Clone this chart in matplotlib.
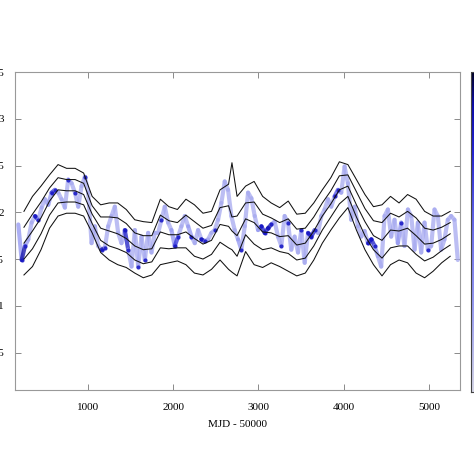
import numpy as np
import matplotlib
matplotlib.use("Agg")
import matplotlib.pyplot as plt
from matplotlib.collections import LineCollection
from matplotlib.colors import LinearSegmentedColormap

plt.rcParams['font.family'] = ['Liberation Serif', 'DejaVu Serif']

# --- envelope lines (black) ---
env_days = [250, 350, 450, 550, 650, 750, 850, 950, 1050, 1150, 1250, 1350, 1450, 1550,
            1650, 1750, 1850, 1950, 2050, 2150, 2250, 2350, 2450, 2550, 2650, 2690, 2750,
            2850, 2950, 3050, 3150, 3250, 3350, 3450, 3550, 3650, 3750, 3850, 3950, 4050,
            4150, 4250, 4350, 4450, 4550, 4650, 4750, 4850, 4950, 5050, 5150, 5250]
upper2 = [2.01, 2.17, 2.28, 2.40, 2.51, 2.47, 2.47, 2.42, 2.17, 2.08, 2.10, 2.10, 2.03, 1.92,
          1.90, 1.89, 2.14, 2.06, 2.03, 2.14, 2.08, 1.99, 2.01, 2.24, 2.30, 2.53, 2.17,
          2.28, 2.33, 2.17, 2.10, 2.05, 2.12, 1.98, 1.99, 2.10, 2.24, 2.37, 2.54, 2.51,
          2.35, 2.19, 2.06, 2.08, 2.17, 2.10, 2.19, 2.14, 2.01, 1.96, 1.96, 2.01]
upper1 = [1.84, 1.98, 2.11, 2.26, 2.37, 2.35, 2.35, 2.31, 2.07, 1.95, 1.95, 1.94, 1.88, 1.78,
          1.75, 1.75, 1.97, 1.91, 1.89, 1.97, 1.90, 1.83, 1.86, 2.05, 2.07, 1.95, 1.96,
          2.10, 2.11, 1.98, 1.94, 1.89, 1.93, 1.82, 1.83, 1.95, 2.10, 2.23, 2.39, 2.40,
          2.22, 2.04, 1.91, 1.89, 1.99, 1.95, 2.01, 1.94, 1.83, 1.81, 1.84, 1.89]
center = [1.67, 1.80, 1.94, 2.12, 2.24, 2.23, 2.23, 2.19, 1.98, 1.83, 1.80, 1.77, 1.72, 1.64,
          1.60, 1.61, 1.79, 1.76, 1.76, 1.79, 1.72, 1.66, 1.70, 1.87, 1.85, 1.80, 1.75,
          1.93, 1.89, 1.79, 1.78, 1.74, 1.75, 1.65, 1.67, 1.80, 1.96, 2.09, 2.24, 2.28,
          2.08, 1.90, 1.75, 1.70, 1.81, 1.80, 1.83, 1.75, 1.66, 1.67, 1.71, 1.77]
lower1 = [1.50, 1.61, 1.77, 1.97, 2.10, 2.11, 2.11, 2.08, 1.88, 1.70, 1.64, 1.61, 1.57, 1.49,
          1.45, 1.47, 1.62, 1.61, 1.62, 1.62, 1.53, 1.50, 1.55, 1.68, 1.62, 1.60, 1.53,
          1.76, 1.66, 1.60, 1.62, 1.58, 1.56, 1.49, 1.51, 1.64, 1.81, 1.95, 2.09, 2.17,
          1.95, 1.75, 1.60, 1.51, 1.62, 1.64, 1.64, 1.55, 1.48, 1.52, 1.59, 1.65]
lower2 = [1.33, 1.42, 1.60, 1.83, 1.96, 1.99, 1.99, 1.96, 1.78, 1.57, 1.49, 1.44, 1.41, 1.35,
          1.30, 1.33, 1.44, 1.46, 1.48, 1.44, 1.35, 1.33, 1.39, 1.49, 1.39, 1.36, 1.32,
          1.58, 1.44, 1.41, 1.46, 1.42, 1.37, 1.32, 1.35, 1.49, 1.67, 1.81, 1.94, 2.05,
          1.81, 1.60, 1.44, 1.32, 1.44, 1.49, 1.46, 1.35, 1.30, 1.37, 1.46, 1.53]

# --- blue measured curve ---
blue_days = [184, 223, 262, 301, 340, 379, 418, 457, 496, 535, 574, 613, 652, 691, 730, 769,
             809, 848, 887, 926, 965, 1004, 1043, 1082, 1121, 1160, 1199, 1238, 1277, 1316,
             1355, 1394, 1433, 1473, 1512, 1551, 1590, 1629, 1668, 1707, 1746, 1785, 1824,
             1863, 1902, 1941, 1980, 2019, 2058, 2097, 2137, 2176, 2215, 2254, 2293, 2332,
             2371, 2410, 2449, 2488, 2527, 2566, 2605, 2644, 2683, 2722, 2761, 2801, 2840,
             2879, 2918, 2957, 2996, 3035, 3074, 3113, 3152, 3191, 3230, 3269, 3308, 3347,
             3386, 3425, 3465, 3504, 3543, 3582, 3621, 3660, 3699, 3738, 3777, 3816, 3855,
             3894, 3933, 3972, 4011, 4050, 4089, 4129, 4168, 4207, 4246, 4285, 4324, 4363,
             4402, 4441, 4480, 4519, 4558, 4597, 4636, 4675, 4714, 4754, 4793, 4832, 4871,
             4910, 4949, 4988, 5027, 5066, 5105, 5144, 5183, 5222, 5261, 5300, 5339]
blue_vals = [1.87, 1.49, 1.64, 1.71, 1.89, 1.96, 1.92, 2.05, 2.14, 2.08, 2.21, 2.24, 2.21,
             2.14, 2.05, 2.35, 2.31, 2.21, 2.06, 2.28, 2.38, 2.21, 1.67, 1.85, 1.64, 1.60,
             1.62, 1.85, 1.96, 2.06, 1.78, 1.67, 1.81, 1.60, 1.42, 1.81, 1.42, 1.74, 1.49,
             1.78, 1.57, 1.78, 1.78, 1.92, 2.06, 1.89, 1.81, 1.64, 1.74, 1.85, 1.96, 1.85,
             1.74, 1.67, 1.81, 1.71, 1.69, 1.71, 1.78, 1.81, 1.92, 2.10, 2.33, 2.24, 1.96,
             1.81, 1.71, 1.60, 1.85, 2.21, 2.15, 1.96, 1.81, 1.85, 1.78, 1.83, 1.87, 1.90,
             1.74, 1.64, 1.96, 1.89, 1.60, 1.74, 1.57, 1.81, 1.46, 1.78, 1.74, 1.81, 1.78,
             1.96, 2.03, 2.14, 2.06, 2.17, 2.24, 2.21, 2.49, 2.31, 1.92, 2.06, 1.85, 1.74,
             1.80, 1.67, 1.71, 1.64, 1.53, 1.42, 1.96, 2.03, 1.74, 1.92, 1.67, 1.89, 1.64,
             2.03, 1.96, 1.60, 1.89, 1.57, 1.89, 1.60, 1.64, 2.03, 1.96, 1.60, 1.71, 1.92,
             1.96, 1.92, 1.49]
blue_weight = [0.3, 0.9, 0.9, 0.3, 0.2, 0.8, 0.8, 0.2, 0.2, 0.3, 0.7, 0.7, 0.2, 0.2, 0.2,
               0.6, 0.2, 0.7, 0.2, 0.2, 0.8, 0.2, 0.2, 0.3, 0.2, 0.9, 0.9, 0.2, 0.2, 0.3,
               0.2, 0.2, 0.8, 0.8, 0.2, 0.2, 0.7, 0.2, 0.8, 0.2, 0.3, 0.2, 0.2, 0.6, 0.2,
               0.2, 0.3, 0.9, 0.7, 0.2, 0.2, 0.3, 0.6, 0.2, 0.2, 0.9, 0.9, 0.3, 0.2, 0.8,
               0.2, 0.2, 0.3, 0.2, 0.2, 0.2, 0.3, 0.7, 0.2, 0.3, 0.2, 0.2, 0.3, 0.8, 0.8,
               0.9, 0.9, 0.3, 0.2, 0.8, 0.2, 0.6, 0.2, 0.3, 0.2, 0.8, 0.2, 0.8, 0.8, 0.9,
               0.3, 0.2, 0.2, 0.3, 0.2, 0.6, 0.8, 0.3, 0.2, 0.2, 0.3, 0.2, 0.2, 0.3, 0.2,
               0.8, 0.8, 0.9, 0.3, 0.2, 0.2, 0.3, 0.2, 0.2, 0.3, 0.6, 0.2, 0.3, 0.2, 0.5,
               0.2, 0.3, 0.2, 0.6, 0.2, 0.3, 0.2, 0.2, 0.2, 0.3, 0.2, 0.2, 0.2]

x_ticks = [1000, 2000, 3000, 4000, 5000]
y_ticks = [0.5, 1.0, 1.5, 2.0, 2.5, 3.0, 3.5]
y_ticklabels = ["0.5", "1", "1.5", "2", "2.5", "3", "3.5"]

cmap = LinearSegmentedColormap.from_list(
    "bl", [(0.0, "#d6d6e6"), (0.25, "#9a9ef2"), (0.5, "#6c70ec"),
           (0.75, "#2424d4"), (0.9, "#0a0aa8"), (1.0, "#000028")])

W, H = 474, 474
fig = plt.figure(figsize=(W / 100, H / 100), dpi=100)
ax = fig.add_axes([15 / W, 1 - 390 / H, 445 / W, 318 / H])

# blue line: colored segments (light base with darker stretches)
pts = np.column_stack([blue_days, blue_vals]).reshape(-1, 1, 2)
segs = np.concatenate([pts[:-1], pts[1:]], axis=1)
w = np.array(blue_weight)
segw = np.minimum(w[:-1], w[1:])
lc = LineCollection(segs, cmap=cmap, norm=plt.Normalize(0, 1), linewidths=3.0,
                    capstyle='round', joinstyle='round', alpha=0.75, zorder=2)
lc.set_array(segw)
ax.add_collection(lc)
# dark blobs at the highlighted points
dark_d = [d for d, ww in zip(blue_days, blue_weight) if ww >= 0.6]
dark_v = [v for v, ww in zip(blue_vals, blue_weight) if ww >= 0.6]
ax.scatter(dark_d, dark_v, s=9, color='#1414c4', alpha=0.85, lw=0, zorder=2.5)

for arr in (upper2, upper1, center, lower1, lower2):
    ax.plot(env_days, arr, color='#111111', lw=0.75, zorder=3)

ax.set_xlim(145, 5365)
ax.set_ylim(0.1, 3.5)
ax.set_xticks(x_ticks)
ax.set_xticklabels([str(t) for t in x_ticks])
ax.set_yticks(y_ticks)
ax.set_yticklabels(y_ticklabels)
ax.tick_params(direction='in', length=4, width=0.6, color='#777777',
               top=True, right=True, labelsize=8, pad=8)
ax.tick_params(axis='x', pad=9)
for s in ax.spines.values():
    s.set_color('#999999')
    s.set_linewidth(0.8)
ax.set_xlabel("MJD - 50000", fontsize=8, labelpad=6)

# colorbar strip on the right edge
cax = fig.add_axes([471 / W, 1 - 392 / H, 12 / W, 320 / H])
sm = plt.cm.ScalarMappable(cmap=cmap, norm=plt.Normalize(0, 1))
cb = fig.colorbar(sm, cax=cax)
cb.outline.set_edgecolor('#444444')
cb.set_ticks([])

fig.savefig("out.png", dpi=100)
